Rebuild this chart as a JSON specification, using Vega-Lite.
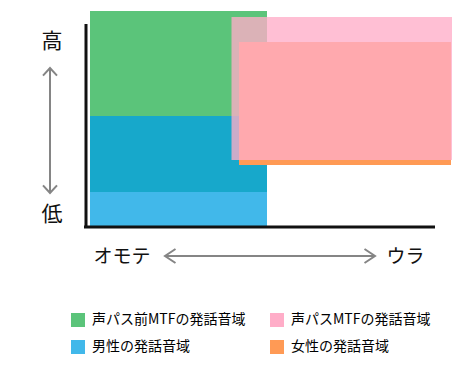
{
  "$schema": "https://vega.github.io/schema/vega-lite/v6.json",
  "width": 474,
  "height": 368,
  "padding": 0,
  "autosize": "none",
  "config": {"view": {"stroke": null}, "font": "Noto Sans CJK JP"},
  "datasets": {
    "ranges": [
      {"cat": "声パス前MTFの発話音域", "x0": 90, "x1": 267, "y0": 252, "y1": 357},
      {"cat": "男性の発話音域", "x0": 90, "x1": 267, "y0": 142, "y1": 176},
      {"cat": "重なり", "x0": 90, "x1": 267, "y0": 176, "y1": 252},
      {"cat": "女性の発話音域", "x0": 239, "x1": 451, "y0": 203, "y1": 326},
      {"cat": "声パスMTFの発話音域", "x0": 231.5, "x1": 452, "y0": 208, "y1": 351}
    ],
    "axesLines": [
      {"x0": 86, "x1": 86, "y0": 140, "y1": 344},
      {"x0": 84, "x1": 435, "y0": 141, "y1": 141}
    ],
    "arrows": [
      {"x0": 50, "x1": 50, "y0": 175, "y1": 300},
      {"x0": 165, "x1": 375, "y0": 112, "y1": 112}
    ],
    "heads": [
      {"dir": "up", "x": 50, "y": 300},
      {"dir": "down", "x": 50, "y": 175},
      {"dir": "left", "x": 165, "y": 112},
      {"dir": "right", "x": 375, "y": 112}
    ],
    "pitch": [
      {"label": "高", "x": 52, "y": 326},
      {"label": "低", "x": 52, "y": 153}
    ],
    "side": [
      {"label": "オモテ", "x": 122, "y": 111.5},
      {"label": "ウラ", "x": 405.5, "y": 111.5}
    ]
  },
  "layer": [
    {
      "data": {"name": "ranges"},
      "mark": {"type": "rect"},
      "encoding": {
        "x": {"field": "x0", "type": "quantitative", "scale": {"domain": [0, 474], "nice": false, "zero": false}, "axis": null},
        "x2": {"field": "x1"},
        "y": {"field": "y0", "type": "quantitative", "scale": {"domain": [0, 368], "nice": false, "zero": false}, "axis": null},
        "y2": {"field": "y1"},
        "color": {
          "field": "cat",
          "type": "nominal",
          "scale": {
            "domain": ["声パス前MTFの発話音域", "男性の発話音域", "声パスMTFの発話音域", "女性の発話音域", "重なり"],
            "range": ["#5BC47A", "#41B8EA", "#FFADC8", "#FF9A55", "#17A8CB"]
          },
          "legend": {
            "values": ["声パス前MTFの発話音域", "男性の発話音域", "声パスMTFの発話音域", "女性の発話音域"],
            "title": null,
            "orient": "none",
            "legendX": 71,
            "legendY": 313,
            "columns": 2,
            "columnPadding": 24,
            "rowPadding": 13,
            "symbolType": "square",
            "symbolSize": 196,
            "symbolStrokeWidth": 0,
            "labelFontSize": 14,
            "labelOffset": 7,
            "labelFont": "Noto Sans CJK JP",
            "labelLimit": 300,
            "encode": {
              "symbols": {"update": {"fill": {"signal": "datum.value === '声パスMTFの発話音域' ? '#FFBED4' : scale('color', datum.value)"}, "opacity": {"value": 1}}},
              "labels": {"update": {"fill": {"signal": "datum.value === '声パスMTFの発話音域' ? '#FFBED4' : scale('color', datum.value)"}}}
            }
          }
        },
        "opacity": {"condition": {"test": "datum.cat === '声パスMTFの発話音域'", "value": 0.78}, "value": 1}
      }
    },
    {
      "data": {"name": "axesLines"},
      "mark": {"type": "rule", "color": "#111111", "strokeWidth": 3},
      "encoding": {
        "x": {"field": "x0", "type": "quantitative"},
        "x2": {"field": "x1"},
        "y": {"field": "y0", "type": "quantitative"},
        "y2": {"field": "y1"}
      }
    },
    {
      "data": {"name": "arrows"},
      "mark": {"type": "rule", "color": "#858585", "strokeWidth": 2},
      "encoding": {
        "x": {"field": "x0", "type": "quantitative"},
        "x2": {"field": "x1"},
        "y": {"field": "y0", "type": "quantitative"},
        "y2": {"field": "y1"}
      }
    },
    {
      "data": {"name": "heads"},
      "mark": {"type": "point", "filled": false, "stroke": "#858585", "strokeWidth": 2, "opacity": 1},
      "encoding": {
        "x": {"field": "x", "type": "quantitative"},
        "y": {"field": "y", "type": "quantitative"},
        "shape": {
          "field": "dir",
          "type": "nominal",
          "scale": {
            "domain": ["up", "down", "left", "right"],
            "range": ["M-1,1.1L0,0L1,1.1", "M-1,-1.1L0,0L1,-1.1", "M1.5,-1L0,0L1.5,1", "M-1.5,-1L0,0L-1.5,1"]
          },
          "legend": null
        },
        "size": {
          "field": "dir",
          "type": "nominal",
          "scale": {"domain": ["up", "down", "left", "right"], "range": [196, 196, 144, 144]},
          "legend": null
        }
      }
    },
    {
      "data": {"name": "pitch"},
      "mark": {"type": "text", "fontSize": 21, "color": "#111111", "baseline": "middle", "align": "center", "font": "Noto Sans CJK JP"},
      "encoding": {
        "x": {"field": "x", "type": "quantitative"},
        "y": {"field": "y", "type": "quantitative"},
        "text": {"field": "label"}
      }
    },
    {
      "data": {"name": "side"},
      "mark": {"type": "text", "fontSize": 19, "color": "#111111", "baseline": "middle", "align": "center", "font": "Noto Sans CJK JP"},
      "encoding": {
        "x": {"field": "x", "type": "quantitative"},
        "y": {"field": "y", "type": "quantitative"},
        "text": {"field": "label"}
      }
    }
  ]
}
